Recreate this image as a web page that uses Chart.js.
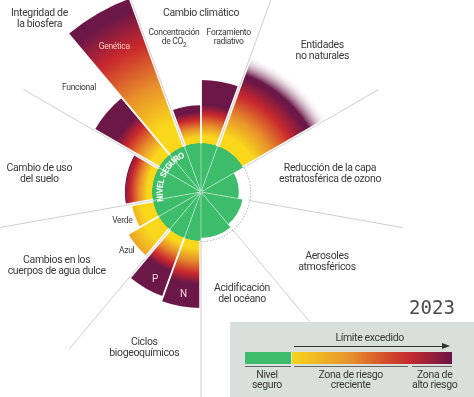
<!DOCTYPE html>
<html lang="es">
<head>
<meta charset="utf-8">
<title>Límites planetarios 2023</title>
<script src="https://cdn.jsdelivr.net/npm/chart.js@4.4.1/dist/chart.umd.min.js"></script>
<style>
  body { margin: 0; width: 474px; height: 397px; overflow: hidden; position: relative; background: #fff;
         font-family: Roboto, "Noto Sans", sans-serif; color: #3a3a3a; }
  #grafico { position: absolute; left: -9px; top: -18px; }
  .etq { position: absolute; transform: translate(-50%, -50%); text-align: center; white-space: nowrap;
         font-size: 10.5px; line-height: 11px; letter-spacing: -0.35px; }
  .peq { font-size: 8.5px; line-height: 9.7px; letter-spacing: -0.3px; }
  .clara { color: #f8c9bd; }
  .blanca { color: #f6d6e2; font-size: 10px; }
  #anio { position: absolute; left: 432px; top: 307px; transform: translate(-50%, -50%);
          font-family: "DejaVu Sans Mono", monospace; font-size: 19px; color: #4a4a4a; }
  #leyenda { position: absolute; left: 230px; top: 322px; width: 244px; height: 75px; background: #d9dfdb; }
  #leyenda .etq { font-size: 10.5px; line-height: 10px; }
  .barra { position: absolute; top: 30px; height: 11.5px; }
  .raya { position: absolute; top: 43.5px; height: 0; border-top: 1px solid #666; }
</style>
</head>
<body>
<canvas id="grafico" width="420" height="420"></canvas>

<div class="etq" style="left:39.5px; top:17.8px">Integridad de<br>la biosfera</div>
<div class="etq" style="left:201px; top:12.3px">Cambio climático</div>
<div class="etq peq" style="left:174px; top:37.5px">Concentración<br>de CO<sub style="font-size:6.5px; line-height:0">2</sub></div>
<div class="etq peq" style="left:228.7px; top:37.5px">Forzamiento<br>radiativo</div>
<div class="etq peq clara" style="left:114.3px; top:46.7px">Genética</div>
<div class="etq peq" style="left:79px; top:87.7px">Funcional</div>
<div class="etq" style="left:322.3px; top:50px">Entidades<br>no naturales</div>
<div class="etq" style="left:330px; top:172.8px">Reducción de la capa<br>estratosférica de ozono</div>
<div class="etq" style="left:39.3px; top:172.8px">Cambio de uso<br>del suelo</div>
<div class="etq peq" style="left:122.3px; top:220.7px">Verde</div>
<div class="etq peq" style="left:126.7px; top:250.7px">Azul</div>
<div class="etq" style="left:56.7px; top:265px">Cambios en los<br>cuerpos de agua dulce</div>
<div class="etq blanca" style="left:155px; top:278.3px">P</div>
<div class="etq blanca" style="left:183.3px; top:293.3px">N</div>
<div class="etq" style="left:327px; top:261.2px">Aerosoles<br>atmosféricos</div>
<div class="etq" style="left:242px; top:292.8px">Acidificación<br>del océano</div>
<div class="etq" style="left:144.3px; top:347px">Ciclos<br>biogeoquímicos</div>

<div id="anio">2023</div>

<div id="leyenda">
  <div class="etq" style="left:139.7px; top:16.3px">Límite excedido</div>
  <div style="position:absolute; left:64px; top:24.2px; width:150px; border-top:1px solid #333"></div>
  <div style="position:absolute; left:212px; top:21px; width:0; height:0; border-top:3.5px solid transparent;
              border-bottom:3.5px solid transparent; border-left:8px solid #333"></div>
  <div class="barra" style="left:15.3px; width:45.4px; background:#3dbd6b"></div>
  <div class="barra" style="left:62.3px; width:159.7px;
       background:linear-gradient(to right, #f6d41c 0%, #e8952c 35%, #d5502c 58%, #c42a2e 74%, #6b1545 100%)"></div>
  <div class="raya" style="left:15px; width:46px"></div>
  <div class="raya" style="left:64px; width:114px"></div>
  <div class="raya" style="left:182px; width:40px"></div>
  <div class="etq" style="left:37px; top:58px">Nivel<br>seguro</div>
  <div class="etq" style="left:120.7px; top:58px">Zona de riesgo<br>creciente</div>
  <div class="etq" style="left:204.7px; top:58px">Zona de<br>alto riesgo</div>
</div>

<script>
// Segmentos en sentido horario, empezando por el cambio climático (arriba)
const segmentos = ['Concentración de CO2', 'Forzamiento radiativo', 'Entidades no naturales',
  'Reducción de la capa de ozono', 'Aerosoles atmosféricos', 'Acidificación del océano',
  'N', 'P', 'Agua azul', 'Agua verde', 'Cambio de uso del suelo', 'Funcional', 'Genética'];
// A qué límite pertenece cada segmento (los subdivididos comparten límite)
const grupos = ['clima', 'clima', 'entidades', 'ozono', 'aerosoles', 'oceano',
  'biogeoquimicos', 'biogeoquimicos', 'agua', 'agua', 'suelo', 'biosfera', 'biosfera'];
// Estado de cada variable, en múltiplos del límite seguro (1 = borde del círculo verde)
const valores = [1.79, 2.31, 3.0, 0.78, 0.87, 0.95, 2.39, 2.29, 1.73, 1.45, 1.57, 2.54, 4.25];
// Punto a partir del cual empieza la zona de alto riesgo
const altoRiesgo = [1.65, 1.8, 2.5, 2, 2, 2, 1.9, 1.75, 2.9, 2.4, 1.6, 2.05, 4.0];
// Segmento sin tope definido (se desvanece hacia fuera)
const desvanece = [false, false, true, false, false, false, false, false, false, false, false, false, false];

const verde = '#3dbd6b';
const amarillo = '#f9d81c';
const naranja = '#e88f2b';
const rojo = '#c9282d';
const morado = '#6b1748';

// Ancho angular: cada límite ocupa 40°, repartidos entre sus subdivisiones
const angulos = grupos.map(g => 40 / grupos.filter(x => x === g).length);

function degradado(ctx) {
  const chart = ctx.chart;
  const esc = chart.scales.r;
  if (!esc || ctx.type !== 'data' || !isFinite(esc.xCenter) || !esc.drawingArea) return verde;
  const i = ctx.dataIndex;
  const cx = esc.xCenter, cy = esc.yCenter;
  const r0 = esc.getDistanceFromCenterForValue(1);
  const rFin = esc.getDistanceFromCenterForValue(valores[i]);
  const rAlto = esc.getDistanceFromCenterForValue(altoRiesgo[i]);
  const rg = Math.max(rFin, rAlto) + 1;
  const f = r => Math.min(1, Math.max(0, r / rg));
  const tramo = rAlto - r0;
  const g = chart.ctx.createRadialGradient(cx, cy, 0, cx, cy, rg);
  g.addColorStop(0, verde);
  g.addColorStop(f(r0), verde);
  g.addColorStop(f(r0 + 0.6), amarillo);
  g.addColorStop(f(r0 + tramo * 0.18), amarillo);
  g.addColorStop(f(r0 + tramo * 0.46), naranja);
  g.addColorStop(f(r0 + tramo * 0.76), rojo);
  g.addColorStop(f(rAlto), morado);
  if (desvanece[i]) {
    g.addColorStop(f(rAlto + 4), morado);
    g.addColorStop(f(rFin), 'rgba(255,255,255,0)');
    g.addColorStop(1, 'rgba(255,255,255,0)');
  } else {
    g.addColorStop(1, morado);
  }
  return g;
}

// Líneas divisorias, círculo punteado y rótulo "NIVEL SEGURO"
const lineasPlugin = {
  id: 'lineas',
  afterDatasetsDraw(chart) {
    const esc = chart.scales.r;
    const cx = esc.xCenter, cy = esc.yCenter;
    const r0 = esc.getDistanceFromCenterForValue(1);
    const c = chart.ctx;
    const arcos = chart.getDatasetMeta(0).data;
    c.save();
    c.lineCap = 'butt';
    arcos.forEach((arco, i) => {
      const a = arco.startAngle;
      const principal = grupos[i] !== grupos[(i + grupos.length - 1) % grupos.length];
      const cos = Math.cos(a), sin = Math.sin(a);
      c.strokeStyle = '#fff';
      c.lineWidth = principal ? 3.5 : 1.8;
      c.beginPath();
      c.moveTo(cx + cos * r0, cy + sin * r0);
      c.lineTo(cx + cos * 215, cy + sin * 215);
      c.stroke();
      if (principal) {
        c.strokeStyle = '#cfcfcf';
        c.lineWidth = 1;
        c.beginPath();
        c.moveTo(cx + cos * r0, cy + sin * r0);
        c.lineTo(cx + cos * 205, cy + sin * 205);
        c.stroke();
      }
      c.strokeStyle = 'rgba(255,255,255,0.45)';
      c.lineWidth = 1;
      c.beginPath();
      c.moveTo(cx, cy);
      c.lineTo(cx + cos * r0, cy + sin * r0);
      c.stroke();
    });
    // Círculo punteado del límite donde no se ha superado
    c.strokeStyle = '#9a9a9a';
    c.lineWidth = 0.8;
    c.setLineDash([1.5, 1.5]);
    c.beginPath();
    c.arc(cx, cy, r0 + 1, (60 - 90) * Math.PI / 180, (180 - 90) * Math.PI / 180);
    c.stroke();
    c.setLineDash([]);
    c.fillStyle = '#b8b8b8';
    c.beginPath();
    c.arc(cx, cy, 1.2, 0, Math.PI * 2);
    c.fill();
    // Texto curvo
    const texto = 'NIVEL SEGURO';
    c.font = 'bold 8.5px Roboto, "Noto Sans", sans-serif';
    c.fillStyle = '#fff';
    c.textAlign = 'center';
    c.textBaseline = 'alphabetic';
    const rBase = r0 - 10, rPaso = r0 - 6;
    const anchoTotal = c.measureText(texto).width;
    let ang = (296 - 90) * Math.PI / 180 - anchoTotal / 2 / rPaso;
    for (const letra of texto) {
      const w = c.measureText(letra).width;
      const am = ang + w / 2 / rPaso;
      c.save();
      c.translate(cx + Math.cos(am) * rBase, cy + Math.sin(am) * rBase);
      c.rotate(am + Math.PI / 2);
      c.fillText(letra, 0, 0);
      c.restore();
      ang += w / rPaso;
    }
    c.restore();
  }
};

new Chart(document.getElementById('grafico'), {
  type: 'polarArea',
  data: {
    labels: segmentos,
    datasets: [{
      data: valores,
      angle: angulos,
      backgroundColor: degradado,
      borderWidth: 0
    }]
  },
  options: {
    responsive: false,
    animation: false,
    layout: { padding: 0 },
    scales: {
      r: {
        min: 0,
        max: 210 / 48.5,
        startAngle: -20,
        ticks: { display: false },
        grid: { display: false },
        angleLines: { display: false },
        pointLabels: { display: false }
      }
    },
    plugins: {
      legend: { display: false },
      tooltip: { enabled: false }
    }
  },
  plugins: [lineasPlugin]
});
</script>
</body>
</html>
